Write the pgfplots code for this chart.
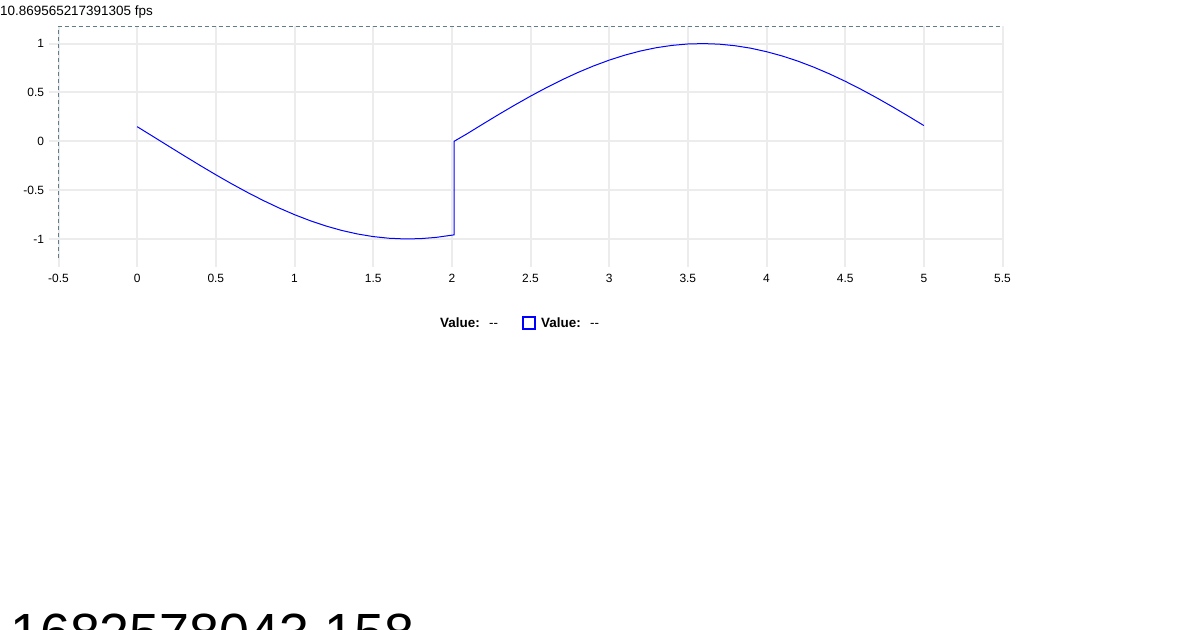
\documentclass[border=0pt]{standalone}
\usepackage{pgfplots}
\pgfplotsset{compat=1.18}
\usepackage{fontspec}
\setmainfont{Liberation Sans}
\definecolor{gridgray}{RGB}{236,236,236}
\definecolor{axisdash}{RGB}{96,125,139}
\definecolor{serieblue}{RGB}{0,0,255}

\begin{document}
\begin{tikzpicture}
\useasboundingbox (0,0) rectangle (1200bp,-630bp);
\clip (0,0) rectangle (1200bp,-630bp);

\begin{axis}[
    name=ax,
    at={(58.5bp,-258bp)}, anchor=south west,
    scale only axis,
    width=944bp, height=232bp,
    xmin=-0.5, xmax=5.5,
    ymin=-1.195, ymax=1.18,
    xtick={-0.5,0,0.5,1,1.5,2,2.5,3,3.5,4,4.5,5,5.5},
    ytick={-1,-0.5,0,0.5,1},
    grid=major,
    major grid style={gridgray, line width=2bp},
    axis line style={draw=none},
    tick align=outside,
    major tick length=9bp,
    major tick style={gridgray, line width=2bp},
    xtick pos=bottom, ytick pos=left,
    tick label style={font=\fontsize{12}{14}\selectfont, text=black},
    xticklabel style={yshift=-4bp},
    yticklabel style={xshift=-2bp},
    /pgf/number format/assume math mode=true,
]
\addplot[serieblue, line width=1bp] coordinates {
    (0.0,0.1494) (0.1,0.0500) (0.2,-0.0500) (0.3,-0.1494) (0.4,-0.2474)
    (0.5,-0.3429) (0.6,-0.4350) (0.7,-0.5227) (0.8,-0.6052) (0.9,-0.6816)
    (1.0,-0.7513) (1.1,-0.8134) (1.2,-0.8674) (1.3,-0.9128) (1.4,-0.9490)
    (1.5,-0.9757) (1.6,-0.9927) (1.7,-0.9998) (1.8,-0.9969) (1.9,-0.9840)
    (2.0,-0.9613) (2.015,-0.9580)
    (2.015,0.0) (2.1,0.0799) (2.2,0.1790) (2.3,0.2764) (2.4,0.3709)
    (2.5,0.4618) (2.6,0.5480) (2.7,0.6288) (2.8,0.7033) (2.9,0.7707)
    (3.0,0.8305) (3.1,0.8820) (3.2,0.9246) (3.3,0.9580) (3.4,0.9817)
    (3.5,0.9959) (3.6,1.0000) (3.7,0.9941) (3.8,0.9781) (3.9,0.9527)
    (4.0,0.9171) (4.1,0.8731) (4.2,0.8202) (4.3,0.7589) (4.4,0.6900)
    (4.5,0.6144) (4.6,0.5325) (4.7,0.4454) (4.8,0.3538) (4.9,0.2586)
    (5.0,0.1609)
};
\end{axis}

% dashed left and top border, drawn over the grid
\draw[axisdash, line width=1bp, dash pattern=on 4bp off 3bp]
    (ax.south west) -- (ax.north west) -- (ax.north east);

% fps counter
\node[anchor=base west, inner sep=0, font=\fontsize{13.5}{16}\selectfont]
    at (0bp,-15bp) {10.869565217391305 fps};

% legend row
\node[anchor=base west, inner sep=0, font=\bfseries\fontsize{13.5}{16}\selectfont]
    at (440bp,-327bp) {Value:};
\node[anchor=base west, inner sep=0, font=\fontsize{13.5}{16}\selectfont]
    at (489bp,-327bp) {-{}-};
\draw[serieblue, line width=2bp] (523bp,-317bp) rectangle (535bp,-329bp);
\node[anchor=base west, inner sep=0, font=\bfseries\fontsize{13.5}{16}\selectfont]
    at (541bp,-327bp) {Value:};
\node[anchor=base west, inner sep=0, font=\fontsize{13.5}{16}\selectfont]
    at (590bp,-327bp) {-{}-};

% timestamp, cut off by the bottom edge
\node[anchor=base west, inner sep=0, font=\fontsize{54}{60}\selectfont]
    at (10bp,-651bp) {1682578043.158};
\end{tikzpicture}
\end{document}
